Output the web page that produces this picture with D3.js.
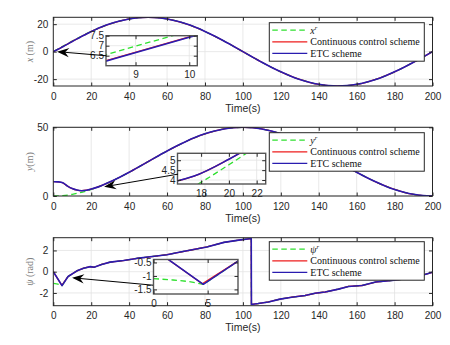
<!DOCTYPE html>
<html>
<head>
<meta charset="utf-8">
<script src="https://cdn.jsdelivr.net/npm/d3@7"></script>
<style>
  html, body { margin: 0; padding: 0; background: #fff; }
  svg { display: block; }
</style>
</head>
<body>
<svg id="fig" width="450" height="345"></svg>
<script>
// ---------- data ----------
// sample times (s) for the position trajectories
const timeXY = [0, 2.5, 5, 7.5, 10, 12.5, 15, 17.5, 20, 22.5, 25, 30, 35, 40, 45, 50, 55, 60, 65, 70,
  75, 80, 85, 90, 95, 100, 105, 110, 115, 120, 125, 130, 135, 140, 145, 150, 155, 160, 165, 170,
  175, 180, 185, 190, 195, 200];

// reference x^r (m)
const xRef = [0, 1.96, 3.91, 5.83, 7.73, 9.57, 11.35, 13.06, 14.69, 16.23, 17.68, 20.23, 22.28, 23.78, 24.69, 25, 24.69, 23.78, 22.28, 20.23,
  17.68, 14.69, 11.35, 7.73, 3.91, 0, -3.91, -7.73, -11.35, -14.69, -17.68, -20.23, -22.28, -23.78, -24.69, -25, -24.69, -23.78, -22.28, -20.23,
  -17.68, -14.69, -11.35, -7.73, -3.91, 0];
// x under continuous control
const xCont = [0, 1.72, 3.62, 5.52, 7.44, 9.32, 11.12, 12.92, 14.62, 16.21, 17.68, 20.23, 22.28, 23.78, 24.69, 25, 24.69, 23.78, 22.28, 20.23,
  17.68, 14.69, 11.35, 7.73, 3.91, 0, -3.91, -7.73, -11.35, -14.69, -17.68, -20.23, -22.28, -23.78, -24.69, -25, -24.69, -23.78, -22.28, -20.23,
  -17.68, -14.69, -11.35, -7.73, -3.91, 0];
// x under event-triggered control
const xEtc = [0, 1.7, 3.6, 5.5, 7.42, 9.3, 11.1, 12.9, 14.6, 16.2, 17.68, 20.23, 22.28, 23.78, 24.69, 25, 24.69, 23.78, 22.28, 20.23,
  17.68, 14.69, 11.35, 7.73, 3.91, 0, -3.91, -7.73, -11.35, -14.69, -17.68, -20.23, -22.28, -23.78, -24.69, -25, -24.69, -23.78, -22.28, -20.23,
  -17.68, -14.69, -11.35, -7.73, -3.91, 0];

// reference y^r (m)
const yRef = [0, 0.08, 0.31, 0.69, 1.22, 1.9, 2.72, 3.68, 4.77, 5.95, 7.32, 10.31, 13.65, 17.27, 21.09, 25, 28.91, 32.73, 36.35, 39.69,
  42.68, 45.23, 47.28, 48.78, 49.69, 50, 49.69, 48.78, 47.28, 45.23, 42.68, 39.69, 36.35, 32.73, 28.91, 25, 21.09, 17.27, 13.65, 10.31,
  7.32, 4.77, 2.72, 1.22, 0.31, 0];
const yCont = [10.4, 10.3, 9.6, 7.2, 5.4, 4.3, 3.85, 4.2, 5.05, 6.1, 7.35, 10.31, 13.65, 17.27, 21.09, 25, 28.91, 32.73, 36.35, 39.69,
  42.68, 45.23, 47.28, 48.78, 49.69, 50, 49.69, 48.78, 47.28, 45.23, 42.68, 39.69, 36.35, 32.73, 28.91, 25, 21.09, 17.27, 13.65, 10.31,
  7.32, 4.77, 2.72, 1.22, 0.31, 0];
const yEtc = [10.4, 10.3, 9.6, 7.2, 5.4, 4.3, 3.85, 4.2, 5.05, 6.1, 7.35, 10.31, 13.65, 17.27, 21.09, 25, 28.91, 32.73, 36.35, 39.69,
  42.68, 45.23, 47.28, 48.78, 49.69, 50, 49.69, 48.78, 47.28, 45.23, 42.68, 39.69, 36.35, 32.73, 28.91, 25, 21.09, 17.27, 13.65, 10.31,
  7.32, 4.77, 2.72, 1.22, 0.31, 0];

// heading (rad)
const timePsi = [0, 4.6, 7.8, 12.5, 16, 19.5, 21.5, 25.5, 30, 37, 44, 51, 60, 67, 74, 81, 90, 97.8, 104.4, 104.5,
  108, 113.5, 119.6, 125.8, 132.8, 138, 143.4, 150.4, 155.7, 162.8, 170, 178.7, 185.8, 192.8, 200];
const psiEtc = [0, -1.31, -0.45, 0.08, 0.33, 0.48, 0.42, 0.68, 0.9, 1.05, 1.25, 1.4, 1.6, 1.85, 2.09, 2.33, 2.76, 2.97, 3.12, -3.08,
  -3.0, -2.85, -2.58, -2.4, -2.24, -2.03, -1.91, -1.64, -1.39, -1.3, -0.97, -0.82, -0.67, -0.42, -0.06];
const timePsiCont = [0, 4.5, 7.8, 12.5, 16, 19.5, 21.5, 25.5, 30, 37, 44, 51, 60, 67, 74, 81, 90, 97.8, 104.4, 104.5,
  108, 113.5, 119.6, 125.8, 132.8, 138, 143.4, 150.4, 155.7, 162.8, 170, 178.7, 185.8, 192.8, 200];
const psiCont = [0, -1.29, -0.45, 0.08, 0.33, 0.48, 0.42, 0.68, 0.9, 1.05, 1.25, 1.4, 1.6, 1.85, 2.09, 2.33, 2.76, 2.97, 3.12, -3.08,
  -3.0, -2.85, -2.58, -2.4, -2.24, -2.03, -1.91, -1.64, -1.39, -1.3, -0.97, -0.82, -0.67, -0.42, -0.06];
const timePsiRef = [0, 1.8, 3.3, 4.6, 7.8, 12.5, 16, 19.5, 21.5, 25.5, 30, 37, 44, 51, 60, 67, 74, 81, 90, 97.8, 104.4, 104.5,
  108, 113.5, 119.6, 125.8, 132.8, 138, 143.4, 150.4, 155.7, 162.8, 170, 178.7, 185.8, 192.8, 200];
const psiRef = [-1.1, -1.15, -1.21, -1.31, -0.45, 0.08, 0.33, 0.48, 0.42, 0.68, 0.9, 1.05, 1.25, 1.4, 1.6, 1.85, 2.09, 2.33, 2.76, 2.97, 3.12, -3.08,
  -3.0, -2.85, -2.58, -2.4, -2.24, -2.03, -1.91, -1.64, -1.39, -1.3, -0.97, -0.82, -0.67, -0.42, -0.06];

// tick labels
const timeTicks = [0, 20, 40, 60, 80, 100, 120, 140, 160, 180, 200];
const xTicks = [-20, 0, 20];
const yTicks = [0, 50];
const psiTicks = [-2, 0, 2];
const inset1XTicks = [9, 10], inset1YTicks = [6.5, 7, 7.5];
const inset2XTicks = [18, 20, 22], inset2YTicks = [4, 4.5, 5];
const inset3XTicks = [0, 5], inset3YTicks = [-1.5, -1, -0.5];

// ---------- styling ----------
const C_REF = "#2fe02f", C_CONT = "#ee1c1c", C_ETC = "#2a1cb0";
const AXIS = "#262626", GRID = "#e3e3e3";
const SANS = "'Liberation Sans', Arial, sans-serif";
const SERIF = "'Liberation Serif', 'Times New Roman', serif";
const PL = 53.3, PR = 432.5;

const svg = d3.select("#fig");
const str = d => String(d);

function drawLines(g, x, y, series, curve, clipId) {
  const gl = g.append("g").attr("clip-path", `url(#${clipId})`);
  series.forEach(s => {
    const line = d3.line().x(d => x(d[0])).y(d => y(d[1])).curve(curve);
    gl.append("path")
      .attr("d", line(d3.zip(s.t, s.v)))
      .attr("fill", "none")
      .attr("stroke", s.color)
      .attr("stroke-width", s.width)
      .attr("stroke-dasharray", s.dash || null)
      .attr("stroke-linejoin", "round");
  });
}

function ticksBox(g, x, y, xt, yt, fontSize, xPad, yPad) {
  const [l, r] = x.range(), [b, t] = y.range();
  const ax = [
    [d3.axisBottom(x).tickValues(xt).tickSize(-3.5).tickPadding(xPad).tickFormat(str), b],
    [d3.axisTop(x).tickValues(xt).tickSize(-3.5).tickFormat(""), t]
  ];
  ax.forEach(([a, pos]) => {
    const ga = g.append("g").attr("transform", `translate(0,${pos})`).call(a.tickSizeOuter(0));
    ga.select(".domain").remove();
    ga.selectAll("line").attr("stroke", AXIS);
    ga.selectAll("text").attr("fill", AXIS).style("font-family", SANS).style("font-size", fontSize + "px");
  });
  const ay = [
    [d3.axisLeft(y).tickValues(yt).tickSize(-3.5).tickPadding(yPad).tickFormat(str), l],
    [d3.axisRight(y).tickValues(yt).tickSize(-3.5).tickFormat(""), r]
  ];
  ay.forEach(([a, pos]) => {
    const ga = g.append("g").attr("transform", `translate(${pos},0)`).call(a.tickSizeOuter(0));
    ga.select(".domain").remove();
    ga.selectAll("line").attr("stroke", AXIS);
    ga.selectAll("text").attr("fill", AXIS).style("font-family", SANS).style("font-size", fontSize + "px");
  });
}

function grid(g, x, y, xt, yt) {
  const [l, r] = x.range(), [b, t] = y.range();
  g.append("g").selectAll("line").data(xt).join("line")
    .attr("x1", d => x(d)).attr("x2", d => x(d)).attr("y1", t).attr("y2", b)
    .attr("stroke", GRID).attr("stroke-width", 0.8);
  g.append("g").selectAll("line").data(yt).join("line")
    .attr("x1", l).attr("x2", r).attr("y1", d => y(d)).attr("y2", d => y(d))
    .attr("stroke", GRID).attr("stroke-width", 0.8);
}

function arrow(g, x, y, from, to) {
  const x1 = x(from[0]), y1 = y(from[1]), x2 = x(to[0]), y2 = y(to[1]);
  const a = Math.atan2(y2 - y1, x2 - x1);
  const ux = Math.cos(a), uy = Math.sin(a), px = -uy, py = ux;
  const L = 12, Wd = 4.6, N = 8;
  g.append("line").attr("x1", x1).attr("y1", y1)
    .attr("x2", x2 - ux * N).attr("y2", y2 - uy * N)
    .attr("stroke", "#000").attr("stroke-width", 1);
  const pts = [
    [x2, y2],
    [x2 - ux * L + px * Wd, y2 - uy * L + py * Wd],
    [x2 - ux * N, y2 - uy * N],
    [x2 - ux * L - px * Wd, y2 - uy * L - py * Wd]
  ];
  g.append("path").attr("d", "M" + pts.map(p => p.join(",")).join("L") + "Z").attr("fill", "#000");
}

function legend(g, left, top, refLabel) {
  const w = 155, h = 38.5;
  g.append("rect").attr("x", left).attr("y", top).attr("width", w).attr("height", h)
    .attr("fill", "#fff").attr("stroke", AXIS).attr("stroke-width", 1);
  const rows = [
    { color: C_REF, dash: "5.5,3.5", label: null },
    { color: C_CONT, dash: null, label: "Continuous control scheme" },
    { color: C_ETC, dash: null, label: "ETC scheme" }
  ];
  rows.forEach((r, i) => {
    const cy = top + 7.5 + i * 11.6;
    g.append("line").attr("x1", left + 3).attr("x2", left + 38).attr("y1", cy).attr("y2", cy)
      .attr("stroke", r.color).attr("stroke-width", 1.3).attr("stroke-dasharray", r.dash);
    const t = g.append("text").attr("x", left + 41).attr("y", cy + 3.4)
      .style("font-family", SERIF).style("font-size", "10px").attr("fill", "#111");
    if (r.label) t.text(r.label);
    else {
      t.append("tspan").style("font-style", "italic").text(refLabel);
      t.append("tspan").attr("dy", -3.5).style("font-size", "6.5px").style("font-style", "italic").text("r");
    }
  });
}

function panel(cfg) {
  const g = svg.append("g");
  const x = d3.scaleLinear().domain([0, 200]).range([PL, PR]);
  const y = d3.scaleLinear().domain(cfg.yDomain).range([cfg.bottom, cfg.top]);
  const clipId = "clip" + cfg.id;
  svg.append("clipPath").attr("id", clipId).append("rect")
    .attr("x", PL).attr("y", cfg.top).attr("width", PR - PL).attr("height", cfg.bottom - cfg.top);

  grid(g, x, y, timeTicks.slice(1, -1), cfg.yTicks);
  drawLines(g, x, y, cfg.series, cfg.curve, clipId);
  g.append("rect").attr("x", PL).attr("y", cfg.top).attr("width", PR - PL).attr("height", cfg.bottom - cfg.top)
    .attr("fill", "none").attr("stroke", AXIS).attr("stroke-width", 1);
  ticksBox(g, x, y, timeTicks, cfg.yTicks, 10, 6.5, 5);

  // axis titles
  g.append("text").attr("x", (PL + PR) / 2).attr("y", cfg.bottom + 25.5).attr("text-anchor", "middle")
    .style("font-family", SANS).style("font-size", "10.5px").attr("fill", AXIS).text("Time(s)");
  const yl = g.append("text").attr("transform", `translate(33,${(cfg.top + cfg.bottom) / 2}) rotate(-90)`)
    .attr("text-anchor", "middle").style("font-family", SERIF).style("font-size", "10px").attr("fill", "#808080");
  yl.append("tspan").style("font-style", "italic").text(cfg.yLabelSym);
  yl.append("tspan").text(cfg.yLabelUnit);

  // zoomed inset
  const ins = cfg.inset;
  const ix = d3.scaleLinear().domain(ins.xDomain).range([ins.left, ins.right]);
  const iy = d3.scaleLinear().domain(ins.yDomain).range([ins.bottom, ins.top]);
  const gi = g.append("g");
  gi.append("rect").attr("x", ins.left).attr("y", ins.top).attr("width", ins.right - ins.left)
    .attr("height", ins.bottom - ins.top).attr("fill", "#fff");
  const iclip = "iclip" + cfg.id;
  svg.append("clipPath").attr("id", iclip).append("rect")
    .attr("x", ins.left).attr("y", ins.top).attr("width", ins.right - ins.left).attr("height", ins.bottom - ins.top);
  grid(gi, ix, iy, ins.xTicks, ins.yTicks);
  drawLines(gi, ix, iy, cfg.series, cfg.curve, iclip);
  gi.append("rect").attr("x", ins.left).attr("y", ins.top).attr("width", ins.right - ins.left)
    .attr("height", ins.bottom - ins.top).attr("fill", "none").attr("stroke", "#555").attr("stroke-width", 1.4);
  ticksBox(gi, ix, iy, ins.xTicks, ins.yTicks, 10, 5.5, 2);

  arrow(g, x, y, cfg.arrowFrom, cfg.arrowTo);
  legend(g, 269.3, cfg.top + cfg.legendOffset, cfg.refLabel);
}

panel({
  id: 1, top: 17.3, bottom: 86, yDomain: [-25, 25], yTicks: xTicks,
  yLabelSym: "x", yLabelUnit: " (m)", refLabel: "x", legendOffset: 5.4,
  curve: d3.curveCatmullRom,
  series: [
    { t: timeXY, v: xRef, color: C_REF, width: 1.3, dash: "5.5,3.5" },
    { t: timeXY, v: xCont, color: C_CONT, width: 1.3 },
    { t: timeXY, v: xEtc, color: C_ETC, width: 1.6 }
  ],
  inset: { xDomain: [8.45, 10.15], yDomain: [6.0, 7.5], left: 106, right: 197.3, top: 35.7, bottom: 65.7,
           xTicks: inset1XTicks, yTicks: inset1YTicks },
  arrowFrom: [28, -3], arrowTo: [2, 0]
});

panel({
  id: 2, top: 127.3, bottom: 196, yDomain: [0, 50], yTicks: yTicks,
  yLabelSym: "y", yLabelUnit: "(m)", refLabel: "y", legendOffset: 5.4,
  curve: d3.curveCatmullRom,
  series: [
    { t: timeXY, v: yRef, color: C_REF, width: 1.3, dash: "5.5,3.5" },
    { t: timeXY, v: yCont, color: C_CONT, width: 1.3 },
    { t: timeXY, v: yEtc, color: C_ETC, width: 1.6 }
  ],
  inset: { xDomain: [16.3, 22.65], yDomain: [3.8, 5.35], left: 177.5, right: 265.7, top: 153.3, bottom: 184,
           xTicks: inset2XTicks, yTicks: inset2YTicks },
  arrowFrom: [65.8, 15.9], arrowTo: [26.8, 6.7]
});

panel({
  id: 3, top: 237.7, bottom: 305.7, yDomain: [-3.2, 3.2], yTicks: psiTicks,
  yLabelSym: "ψ", yLabelUnit: " (rad)", refLabel: "ψ", legendOffset: 4,
  curve: d3.curveLinear,
  series: [
    { t: timePsiRef, v: psiRef, color: C_REF, width: 1.3, dash: "5.5,3.5" },
    { t: timePsiCont, v: psiCont, color: C_CONT, width: 1.3 },
    { t: timePsi, v: psiEtc, color: C_ETC, width: 1.6 }
  ],
  inset: { xDomain: [0, 7.8], yDomain: [-1.67, -0.39], left: 153.5, right: 238, top: 259.5, bottom: 294,
           xTicks: inset3XTicks, yTicks: inset3YTicks },
  arrowFrom: [52.6, -1.27], arrowTo: [9.9, -0.57]
});
</script>
</body>
</html>
